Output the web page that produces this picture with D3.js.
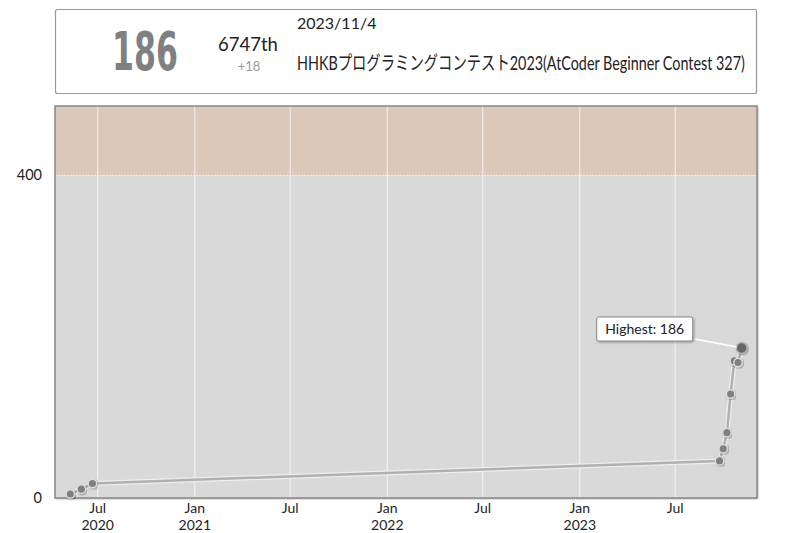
<!DOCTYPE html>
<html>
<head>
<meta charset="utf-8">
<script src="https://cdn.jsdelivr.net/npm/d3@7"></script>
<style>
  body { margin: 0; background: #fff; }
  svg text { font-family: Lato, "Noto Sans CJK JP", sans-serif; }
</style>
</head>
<body>
<script>
// contest history (date, new rating)
var contestDates = ["2020-05-10", "2020-05-31", "2020-06-21", "2023-09-23", "2023-09-30",
                    "2023-10-07", "2023-10-14", "2023-10-21", "2023-10-28", "2023-11-04"];
var ratings = [5, 11, 18, 46, 61, 81, 129, 170, 168, 186];

// rating colour bands
var bandLows = [0, 400];
var bandHighs = [400, 800];
var bandColors = ["#d9d9d9", "#dac9bb"];
var yTicks = [0, 400];

// header info for the latest contest
var headRating = "186";
var headRank = "6747th";
var headDiff = "+18";
var headDate = "2023/11/4";
var headContest = "HHKBプログラミングコンテスト2023(AtCoder Beginner Contest 327)";

var width = 800, height = 533;
var plot = {left: 55, right: 757, top: 106, bottom: 498};

var parse = d3.timeParse("%Y-%m-%d");
var data = contestDates.map(function(d, i) { return {date: parse(d), rating: ratings[i]}; });

var svg = d3.select("body").append("svg")
    .attr("width", width)
    .attr("height", height);

var defs = svg.append("defs");
var shadow = defs.append("filter").attr("id", "shadow")
    .attr("x", "-10%").attr("y", "-10%").attr("width", "120%").attr("height", "130%");
shadow.append("feDropShadow")
    .attr("dx", 1).attr("dy", 1).attr("stdDeviation", 1.2)
    .attr("flood-color", "#000").attr("flood-opacity", 0.35);

// ---- header box
var head = svg.append("g");
head.append("rect")
    .attr("x", 55.5).attr("y", 9.5)
    .attr("width", 701).attr("height", 84)
    .attr("rx", 2)
    .attr("fill", "#fff")
    .attr("stroke", "#999")
    .attr("stroke-width", 1.2);

head.append("text")
    .attr("x", 145).attr("y", 70)
    .attr("text-anchor", "middle")
    .attr("font-size", 54)
    .attr("font-weight", "bold")
    .attr("fill", "#808080")
    .style("font-family", "'Liberation Sans Narrow', 'DejaVu Sans Condensed', sans-serif")
    .attr("textLength", 66)
    .attr("lengthAdjust", "spacingAndGlyphs")
    .text(headRating);

head.append("text")
    .attr("x", 248).attr("y", 51)
    .attr("text-anchor", "middle")
    .attr("font-size", 18.5)
    .attr("fill", "#222")
    .text(headRank);

head.append("text")
    .attr("x", 249).attr("y", 71)
    .attr("text-anchor", "middle")
    .attr("font-size", 13)
    .attr("fill", "#999")
    .text(headDiff);

head.append("text")
    .attr("x", 297).attr("y", 29)
    .attr("font-size", 16)
    .attr("fill", "#222")
    .text(headDate);

// the title is drawn slightly condensed, like the original
var title = head.append("text")
    .attr("font-size", 19)
    .attr("fill", "#222")
    .text(headContest);
var natural = title.node().getComputedTextLength();
title.attr("transform", "translate(297,70) scale(" + (448 / natural) + ",1)");

// ---- scales
var xScale = d3.scaleTime()
    .domain([d3.timeDay.offset(data[0].date, -29), d3.timeDay.offset(data[data.length - 1].date, 29)])
    .range([plot.left, plot.right]);

var yScale = d3.scaleLinear()
    .domain([0, 486])
    .range([plot.bottom, plot.top]);

var chart = svg.append("g");

// plot frame with shadow
chart.append("rect")
    .attr("x", plot.left).attr("y", plot.top)
    .attr("width", plot.right - plot.left).attr("height", plot.bottom - plot.top)
    .attr("fill", "#d9d9d9")
    .attr("filter", "url(#shadow)");

var clip = defs.append("clipPath").attr("id", "plotclip");
clip.append("rect")
    .attr("x", plot.left).attr("y", plot.top)
    .attr("width", plot.right - plot.left).attr("height", plot.bottom - plot.top);

var inner = chart.append("g").attr("clip-path", "url(#plotclip)");

inner.selectAll("rect.band")
    .data(bandLows)
    .enter().append("rect")
    .attr("class", "band")
    .attr("x", plot.left)
    .attr("width", plot.right - plot.left)
    .attr("y", function(d, i) { return yScale(bandHighs[i]); })
    .attr("height", function(d, i) { return yScale(d) - yScale(bandHighs[i]); })
    .attr("fill", function(d, i) { return bandColors[i]; });

// grid
var monthTicks = xScale.ticks(d3.timeMonth.every(6));
inner.selectAll("line.vgrid")
    .data(monthTicks)
    .enter().append("line")
    .attr("class", "vgrid")
    .attr("x1", function(d) { return xScale(d); })
    .attr("x2", function(d) { return xScale(d); })
    .attr("y1", plot.top).attr("y2", plot.bottom)
    .attr("stroke", "#fff")
    .attr("stroke-opacity", 0.7)
    .attr("stroke-width", 1);

inner.selectAll("line.hgrid")
    .data(yTicks.slice(1))
    .enter().append("line")
    .attr("class", "hgrid")
    .attr("x1", plot.left).attr("x2", plot.right)
    .attr("y1", function(d) { return yScale(d); })
    .attr("y2", function(d) { return yScale(d); })
    .attr("stroke", "#fff")
    .attr("stroke-opacity", 0.75)
    .attr("stroke-dasharray", "2,1");

// frame border
chart.append("rect")
    .attr("x", plot.left).attr("y", plot.top)
    .attr("width", plot.right - plot.left).attr("height", plot.bottom - plot.top)
    .attr("fill", "none")
    .attr("stroke", "#888")
    .attr("stroke-width", 1.5);

// y axis labels
chart.selectAll("text.ylab")
    .data(yTicks)
    .enter().append("text")
    .attr("class", "ylab")
    .attr("x", 42)
    .attr("y", function(d) { return yScale(d) + 5; })
    .attr("text-anchor", "end")
    .attr("font-size", 14.5)
    .attr("fill", "#222")
    .text(function(d) { return d; });

// x axis labels: month, and the year under January (and under the first tick)
var monthFmt = d3.timeFormat("%b");
chart.selectAll("text.xmonth")
    .data(monthTicks)
    .enter().append("text")
    .attr("class", "xmonth")
    .attr("x", function(d) { return xScale(d); })
    .attr("y", 513)
    .attr("text-anchor", "middle")
    .attr("font-size", 14)
    .attr("fill", "#222")
    .text(function(d) { return monthFmt(d); });

chart.selectAll("text.xyear")
    .data(monthTicks.filter(function(d, i) { return i === 0 || d.getMonth() === 0; }))
    .enter().append("text")
    .attr("class", "xyear")
    .attr("x", function(d) { return xScale(d); })
    .attr("y", 530)
    .attr("text-anchor", "middle")
    .attr("font-size", 14)
    .attr("fill", "#222")
    .text(function(d) { return d.getFullYear(); });

// rating line
var line = d3.line()
    .x(function(d) { return xScale(d.date); })
    .y(function(d) { return yScale(d.rating); });

chart.append("path")
    .datum(data)
    .attr("d", line)
    .attr("fill", "none")
    .attr("stroke", "#eee")
    .attr("stroke-width", 5)
    .attr("stroke-linejoin", "round");
chart.append("path")
    .datum(data)
    .attr("d", line)
    .attr("fill", "none")
    .attr("stroke", "#b0b0b0")
    .attr("stroke-width", 2.5)
    .attr("stroke-linejoin", "round");

var best = d3.maxIndex(data, function(d) { return d.rating; });

chart.selectAll("circle.pt")
    .data(data)
    .enter().append("circle")
    .attr("class", "pt")
    .attr("cx", function(d) { return xScale(d.date); })
    .attr("cy", function(d) { return yScale(d.rating); })
    .attr("r", function(d, i) { return i === best ? 5.3 : 4.2; })
    .attr("fill", function(d, i) { return i === best ? "#666" : "#808080"; })
    .attr("stroke", function(d, i) { return i === best ? "#aaa" : "#ddd"; })
    .attr("stroke-width", 1.3)
    .attr("filter", "url(#shadow)");

// highest label
var bx = xScale(data[best].date), by = yScale(data[best].rating);
chart.append("line")
    .attr("x1", bx - 47).attr("y1", by - 9)
    .attr("x2", bx - 5).attr("y2", by - 1)
    .attr("stroke", "#fff")
    .attr("stroke-width", 1.5);
chart.append("rect")
    .attr("x", bx - 145).attr("y", by - 31)
    .attr("width", 96).attr("height", 24)
    .attr("rx", 2)
    .attr("fill", "#fff")
    .attr("stroke", "#888")
    .attr("stroke-width", 1)
    .attr("filter", "url(#shadow)");
chart.append("text")
    .attr("x", bx - 97).attr("y", by - 14)
    .attr("text-anchor", "middle")
    .attr("font-size", 14)
    .attr("fill", "#222")
    .text("Highest: " + data[best].rating);
</script>
</body>
</html>
